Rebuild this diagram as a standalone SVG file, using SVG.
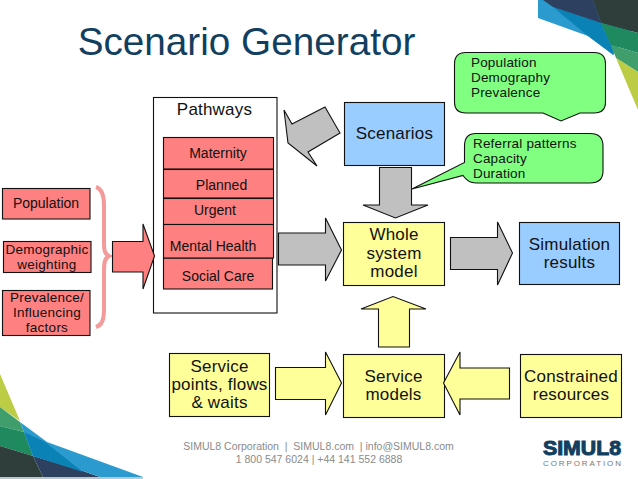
<svg xmlns="http://www.w3.org/2000/svg" width="638" height="479" viewBox="0 0 638 479">
<style>
text{font-family:"Liberation Sans",Arial,sans-serif;fill:#111;text-anchor:middle}
.b{stroke:#111;stroke-width:1.1}
.red{fill:#ff8080}.yel{fill:#ffff99}.blu{fill:#99ccff}.gry{fill:#c0c0c0}.grn{fill:#80ff80}
.s13{font-size:13.500px;letter-spacing:.18px}.s14{font-size:14px}.s14t{font-size:13.500px;letter-spacing:.25px}.s17{font-size:17px;letter-spacing:.2px}
.l{text-anchor:start}
.foot{font-size:10.500px;fill:#8a8a8a}
</style>
<rect width="638" height="479" fill="#fff"/>
<g id="corner-top-right">
<polygon points="538,0 593,0 638,0 638,20 613,55 588,36 538,18" fill="#2b9bcf"/>
<polygon points="553,7 601,23 611,45 614,55 588,36" fill="#0b82b5"/>
<polygon points="543,0 593,0 601,23 553,7" fill="#2d4060"/>
<polygon points="593,0 638,0 638,33 601,23" fill="#2f3d3b"/>
<polygon points="601,23 638,33 638,53 611,45" fill="#1f8a5e"/>
<polygon points="611,45 638,53 638,72 616,58" fill="#3f9e6c"/>
<polygon points="616,58 638,72 638,110" fill="#bccd45"/>
</g>
<g id="corner-bottom-left">
<polygon points="0,374 20,421 0,407" fill="#bccd45"/>
<polygon points="0,407 20,422 24,432 0,426" fill="#3f9e6c"/>
<polygon points="0,426 24,432 33,456 0,446" fill="#1f8a5e"/>
<polygon points="0,446 33,456 43,477 0,477" fill="#2f3d3b"/>
<polygon points="33,456 83,471 100,477 43,477" fill="#2d4060"/>
<polygon points="20,422 47,442 143,477 100,477 83,471 33,456 24,432" fill="#2b9bcf"/>
<polygon points="24,432 45,442 83,472 33,456" fill="#0b82b5"/>
<rect x="0" y="477" width="143" height="2" fill="#b9c6cc"/>
</g>
<text id="title" x="246.500" y="55" style="font-size:38.700px;fill:#123f5f">Scenario Generator</text>
<g id="pathways">
<rect class="b" x="153.500" y="97.500" width="123.500" height="215.500" fill="#fff"/>
<text class="s17" x="214.500" y="115">Pathways</text>
</g>
<g id="maternity"><rect class="b red" x="163.500" y="137.500" width="110" height="31.500"/><text class="s14" x="218" y="158">Maternity</text></g>
<g id="planned"><rect class="b red" x="163.500" y="169.500" width="110" height="28.500"/><text class="s14" x="221.500" y="189.500">Planned</text></g>
<g id="urgent"><rect class="b red" x="163.500" y="198.500" width="110" height="26"/><text class="s14" x="215" y="214.500">Urgent</text></g>
<g id="social-care"><rect class="b red" x="163.500" y="258" width="109" height="31"/><text class="s14" x="218" y="280.500">Social Care</text></g>
<g id="mental-health"><rect class="b red" x="163.500" y="224.500" width="110" height="33.500"/><text class="s14" x="213" y="251">Mental Health</text></g>
<g id="population"><rect class="b red" x="2.500" y="188.500" width="87.500" height="30.500"/><text class="s14" x="46" y="208">Population</text></g>
<g id="demographic"><rect class="b red" x="3.500" y="241.500" width="87.500" height="31"/><text class="s14t" x="47" y="254">Demographic</text><text class="s14t" x="47" y="269">weighting</text></g>
<g id="prevalence"><rect class="b red" x="2.500" y="290.500" width="87.500" height="45"/><text class="s14t" x="47" y="302">Prevalence/</text><text class="s14t" x="47" y="317">Influencing</text><text class="s14t" x="47" y="332">factors</text></g>
<g id="scenarios"><rect class="b blu" x="344.500" y="102.500" width="100" height="63"/><text class="s17" x="394.500" y="139">Scenarios</text></g>
<g id="whole-system"><rect class="b yel" x="343.500" y="222.500" width="101" height="63"/><text class="s17" x="394" y="240">Whole</text><text class="s17" x="394" y="259">system</text><text class="s17" x="394" y="277">model</text></g>
<g id="simulation-results"><rect class="b blu" x="519.500" y="222.500" width="100" height="62"/><text class="s17" x="569.500" y="250">Simulation</text><text class="s17" x="569.500" y="268">results</text></g>
<g id="service-points"><rect class="b yel" x="169.500" y="353.500" width="100" height="63"/><text class="s17" x="219.500" y="372">Service</text><text class="s17" x="219.500" y="390">points, flows</text><text class="s17" x="219.500" y="408">&amp; waits</text></g>
<g id="service-models"><rect class="b yel" x="343.500" y="354.500" width="101" height="63"/><text class="s17" x="393.500" y="382">Service</text><text class="s17" x="393.500" y="400">models</text></g>
<g id="constrained"><rect class="b yel" x="520.500" y="354.500" width="101" height="63"/><text class="s17" x="571" y="382">Constrained</text><text class="s17" x="571" y="400">resources</text></g>
<g id="connectors">
<path d="M96,187 C102,189 104,195 104,205 V243 C104,251 105,254 109,256 C105,258 104,262 104,270 V309 C104,320 102,325 96,327" fill="none" stroke="#f49a9a" stroke-width="4"/>
<polygon class="b red" points="112.500,241.500 143,241.500 143,224 154.500,256 143,289 143,272 112.500,272"/>
<polygon class="b gry" points="284,110 292,124 325,107 340,133 308,152 317,166 288,143"/>
<polygon class="b gry" points="278.500,233 325.500,233 325.500,218 341.500,250 325.500,281 325.500,265 278.500,265"/>
<polygon class="b gry" points="450.500,237.500 497.500,237.500 497.500,222 512.500,253 497.500,285 497.500,269.500 450.500,269.500"/>
<polygon class="b gry" points="379.500,167.500 411.500,167.500 411.500,205 428,205 395.500,218 363,205 379.500,205"/>
<polygon class="b yel" points="378.500,347 378.500,309 361,309 393,296.500 426,309 409.500,309 409.500,347"/>
<polygon class="b yel" points="275.500,367.500 325.500,367.500 325.500,352 341.500,383 325.500,415 325.500,399.500 275.500,399.500"/>
<polygon class="b yel" points="509.500,368 460,368 460,352 443.500,383 460,415 460,399 509.500,399"/>
</g>
<g id="callout-1">
<path class="b grn" d="M466,52.500 H594 Q605.500,52.500 605.500,64 V102 Q605.500,113 594,113 H580 L561,121 L543,113 H466 Q454.500,113 454.500,102 V64 Q454.500,52.500 466,52.500 Z"/>
<text class="s13 l" x="471" y="67">Population</text><text class="s13 l" x="471" y="82">Demography</text><text class="s13 l" x="471" y="97">Prevalence</text>
</g>
<g id="callout-2">
<path class="b grn" d="M476,133.500 H590 Q603,133.500 603,146 V171 Q603,183 590,183 H476 Q468,183 463,175.500 L412,189 L464.500,162.500 V146 Q464.500,133.500 476,133.500 Z"/>
<text class="s13 l" x="473" y="148">Referral patterns</text><text class="s13 l" x="473" y="163">Capacity</text><text class="s13 l" x="473" y="178">Duration</text>
</g>
<g id="footer">
<text class="foot" x="318.500" y="450">SIMUL8 Corporation&#160; |&#160; SIMUL8.com&#160; | info@SIMUL8.com</text>
<text class="foot" x="319" y="463">1 800 547 6024 | +44 141 552 6888</text>
</g>
<g id="logo">
<text x="582" y="454.500" textLength="78" lengthAdjust="spacingAndGlyphs" style="font-size:20px;font-weight:bold;fill:#123f5f;stroke:#123f5f;stroke-width:1">SIMUL8</text>
<text x="582" y="466" textLength="78" style="font-size:8px;fill:#777">CORPORATION</text>
</g>
</svg>
